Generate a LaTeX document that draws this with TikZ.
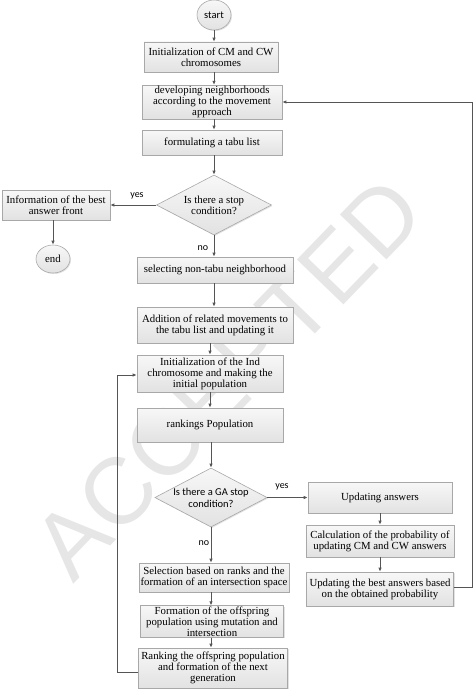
\documentclass[tikz,border=0pt]{standalone}
\usepackage{fontspec}
\setmainfont{Liberation Serif}
\newfontfamily\calfont{Carlito}
\newfontfamily\wmfont{Liberation Sans}
\usetikzlibrary{shapes.geometric,arrows.meta,shadows}
\definecolor{boxline}{HTML}{A8A8A8}
\definecolor{boxfill}{HTML}{E2E2E2}
\definecolor{conn}{HTML}{555555}
\definecolor{wm}{HTML}{E6E6E6}
\begin{document}
\begin{tikzpicture}[x=1pt,y=-1pt,
  sz/.style 2 args={minimum width=#1pt, minimum height=#2pt},
  base/.style={draw=boxline, line width=0.6pt, top color=white!97!black, bottom color=boxfill,
    drop shadow={shadow xshift=1pt,shadow yshift=-1pt,fill=gray!45,opacity=0.5},
    align=center, inner sep=1pt, font=\fontsize{10.8}{11}\selectfont},
  box/.style={base, rectangle},
  term/.style={base, ellipse},
  dec/.style={base, diamond, inner sep=0pt},
  arr/.style={draw=conn, line width=0.8pt, -{Latex[length=4pt,width=3.5pt]}},
  lab/.style={font=\calfont\fontsize{10}{11}\selectfont, text=black}
]
\useasboundingbox (0,0) rectangle (474,690);

\node[rotate=46, text=wm, font=\wmfont\fontsize{94}{94}\selectfont, inner sep=0pt] (wmark) at (228,378) {ACCEPTED};

\node[term, sz={34}{30}, font=\calfont\fontsize{10.5}{11}\selectfont] (start) at (214,15) {start};
\node[box, sz={134}{30}] (init) at (211,57) {Initialization of CM and CW\\chromosomes};
\node[box, sz={140}{32}] (dev) at (212,102) {developing neighborhoods\\according to the movement\\approach};
\node[box, sz={140}{25}] (tabu) at (212,142.5) {formulating a tabu list};
\node[dec, sz={115}{60}, aspect=1.9] (stop) at (214,205) {Is there a stop\\condition?};
\node[box, sz={108}{30}] (info) at (56,205) {Information of the best\\answer front};
\node[term, sz={34}{28}] (end) at (53,259) {end};
\node[box, sz={156}{26}] (sel) at (215,270) {selecting non-tabu neighborhood};
\node[box, sz={156}{36}] (add) at (215,325) {Addition of related movements to\\the tabu list and updating it};
\node[box, sz={146}{37}] (ind) at (210,373.5) {Initialization of the Ind\\chromosome and making the\\initial population};
\node[box, sz={146}{34}] (rank) at (210,425) {rankings Population};
\node[dec, sz={112}{59}, aspect=1.9, font=\calfont\fontsize{10.5}{12}\selectfont] (ga) at (211,497.5) {Is there a GA stop\\condition?};
\node[box, sz={144}{31}] (upd) at (380,497.5) {Updating answers};
\node[box, sz={148}{32}] (calc) at (380,541) {Calculation of the probability of\\updating CM and CW answers};
\node[box, sz={147}{34}] (best) at (380,589) {Updating the best answers based\\on the obtained probability};
\node[box, sz={150}{29}] (selr) at (214,577.5) {Selection based on ranks and the\\formation of an intersection space};
\node[box, sz={143}{31}] (form) at (212,621.5) {Formation of the offspring\\population using mutation and\\intersection};
\node[box, sz={149}{40}] (rnk) at (213,668) {Ranking the offspring population\\and formation of the next\\generation};

\coordinate (lc1) at (117,672);
\coordinate (lc2) at (117,375);
\coordinate (rc1) at (472,587);
\coordinate (rc2) at (472,102);

\draw[arr] (start.south) -- (start.south |- init.north);
\draw[arr] (init.south -| start.south) -- (start.south |- dev.north);
\draw[arr] (dev.south -| start.south) -- (start.south |- tabu.north);
\draw[arr] (tabu.south -| start.south) -- (stop.north);
\draw[arr] (stop.west) -- (info.east);
\draw[arr] (info.south -| end.north) -- (end.north);
\draw[arr] (stop.south) -- (stop.south |- sel.north);
\draw[arr] (sel.south -| stop.south) -- (stop.south |- add.north);
\draw[arr] (add.south -| rank.north) -- (ind.north -| rank.north);
\draw[arr] (ind.south) -- (rank.north);
\draw[arr] (rank.south -| ga.north) -- (ga.north);
\draw[arr] (ga.east) -- (upd.west);
\draw[arr] (upd.south) -- (calc.north);
\draw[arr] (calc.south) -- (best.north);
\draw[arr] (ga.south) -- (ga.south |- selr.north);
\draw[arr] (selr.south -| ga.south) -- (ga.south |- form.north);
\draw[arr] (form.south -| ga.south) -- (ga.south |- rnk.north);
\draw[arr] (rnk.west |- lc1) -- (lc1) -- (lc2) -- (ind.west |- lc2);
\draw[arr] (best.east |- rc1) -- (rc1) -- (rc2) -- (dev.east |- rc2);

\node[lab] (yes1) at (137,196) {yes};
\node[lab] (no1) at (203,248) {no};
\node[lab] (yes2) at (282,487) {yes};
\node[lab] (no2) at (204,543) {no};
\end{tikzpicture}
\end{document}
